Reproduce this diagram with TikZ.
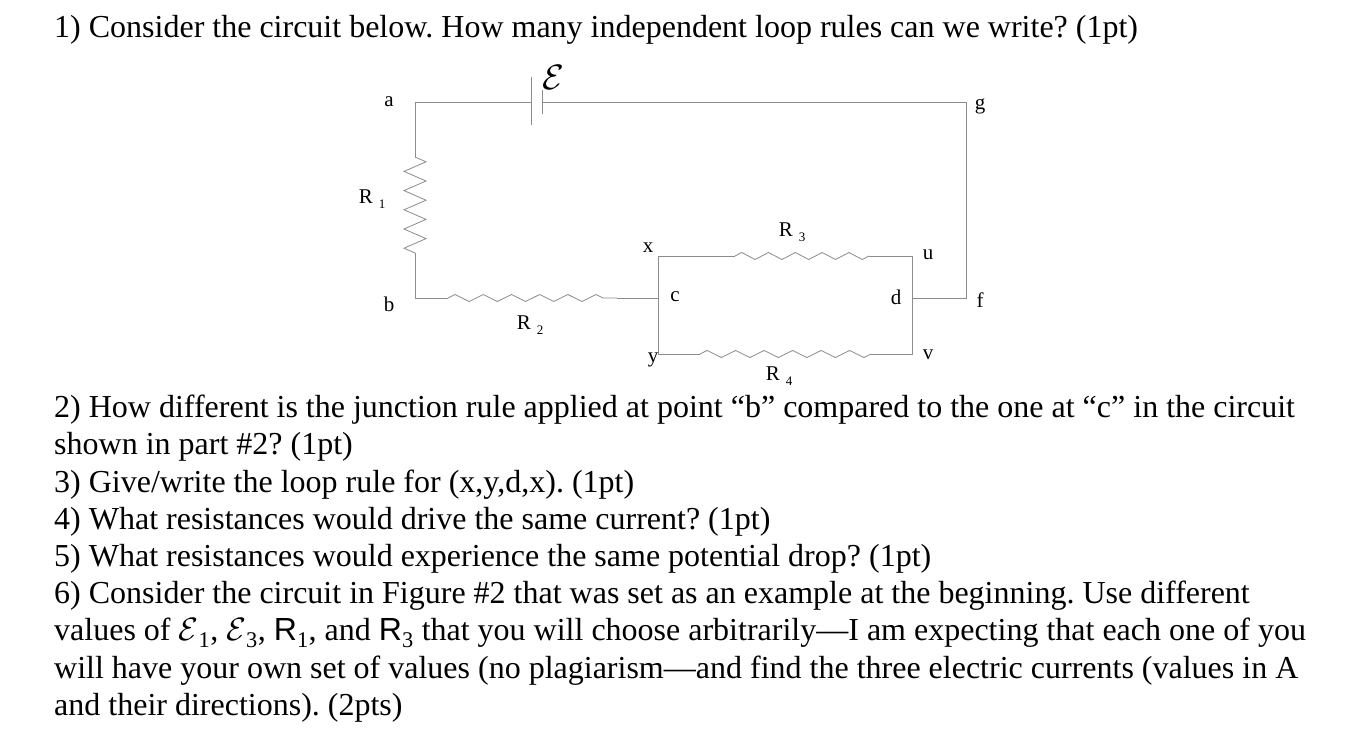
\documentclass[tikz,border=0pt]{standalone}
\usepackage{fontspec}
\setmainfont{Liberation Serif}
\newfontfamily\sff{Liberation Sans}
\usetikzlibrary{decorations.pathmorphing}
\frenchspacing
\begin{document}
\begin{tikzpicture}[x=1pt,y=-1pt,
  wire/.style={draw=black!45,line width=0.8pt},
  res/.style={wire,decorate,decoration={zigzag,segment length=#1,amplitude=3.5pt}},
  lbl/.style={font=\fontsize{21}{21}\selectfont,inner sep=0pt},
  txt/.style={anchor=west,inner sep=0pt,font=\fontsize{32}{34}\selectfont}]
\useasboundingbox (0,0) rectangle (1368,746);
\fill[white] (0,0) rectangle (1368,746);
% circuit coordinates
\coordinate (A) at (415,102);
\coordinate (G) at (966,102);
\coordinate (B) at (415,298);
\coordinate (C) at (658,298);
\coordinate (X) at (658,256);
\coordinate (Y) at (658,354);
\coordinate (U) at (912,256);
\coordinate (V) at (912,354);
\coordinate (D) at (912,298);
\coordinate (F) at (966,298);
\coordinate (P1) at (531,102);
\coordinate (P2) at (542,102);
\coordinate (R1a) at (415,157);
\coordinate (R1b) at (415,253);
\coordinate (R2a) at (448,298);
\coordinate (R2b) at (617,298);
\coordinate (R3a) at (735,256);
\coordinate (R3b) at (869,256);
\coordinate (R4a) at (700,354);
\coordinate (R4b) at (871,354);
\path[wire] (P1) -- (A) -- (R1a);
\draw[wire,decorate,decoration={zigzag,segment length=19.2pt,amplitude=11pt}] (R1a) -- (R1b);
\path[wire] (R1b) -- (B) -- (R2a);
\draw[res=28.2pt] (R2a) -- (R2b);
\path[wire] (R2b) -- (C);
\path[wire] (X) -- (Y);
\path[wire] (X) -- (R3a);
\draw[res=26.8pt] (R3a) -- (R3b);
\path[wire] (R3b) -- (U) -- (V) -- (R4b);
\draw[res=28.5pt] (R4a) -- (R4b);
\path[wire] (R4a) -- (Y);
\path[wire] (D) -- (F) -- (G) -- (P2);
\draw[wire] (531,77) -- (531,125);
\draw[wire] (542,90) -- (542,114);
% labels
\node[lbl] (la) at (389,102) {a};
\node[lbl] (lg) at (980,106) {g};
\node[lbl] (lE) at (553,77) {\scalebox{1.7}{$\mathcal{E}$}};
\node[lbl] (lR1) at (372,199) {R\hspace{6pt}\raisebox{-5pt}{\fontsize{13}{13}\selectfont 1}};
\node[lbl] (lx) at (648,248) {x};
\node[lbl] (lR3) at (792,232) {R\hspace{6pt}\raisebox{-5pt}{\fontsize{13}{13}\selectfont 3}};
\node[lbl] (lu) at (928,255) {u};
\node[lbl] (lb) at (389,304) {b};
\node[lbl] (lc) at (675,297) {c};
\node[lbl] (ld) at (896,297) {d};
\node[lbl] (lf) at (980,300) {f};
\node[lbl] (lR2) at (530,325) {R\hspace{6pt}\raisebox{-5pt}{\fontsize{13}{13}\selectfont 2}};
\node[lbl] (ly) at (653,360) {y};
\node[lbl] (lv) at (928,355) {v};
\node[lbl] (lR4) at (779,376) {R\hspace{6pt}\raisebox{-5pt}{\fontsize{13}{13}\selectfont 4}};
% text
\node[txt] (t1) at (54,30) {1) Consider the circuit below. How many independent loop rules can we write? (1pt)};
\node[txt] (t2) at (54,410) {2) How different is the junction rule applied at point “b” compared to the one at “c” in the circuit};
\node[txt] (t3) at (54,447) {shown in part \#2? (1pt)};
\node[txt] (t4) at (54,485) {3) Give/write the loop rule for (x,y,d,x). (1pt)};
\node[txt] (t5) at (54,522) {4) What resistances would drive the same current? (1pt)};
\node[txt] (t6) at (54,559) {5) What resistances would experience the same potential drop? (1pt)};
\node[txt] (t7) at (54,596) {6) Consider the circuit in Figure \#2 that was set as an example at the beginning. Use different};
\node[txt] (t8) at (54,633) {values of \scalebox{1.3}{$\mathcal{E}$}\textsubscript{1}, \scalebox{1.3}{$\mathcal{E}$}\textsubscript{3}, {\sff R}\textsubscript{1}, and {\sff R}\textsubscript{3} that you will choose arbitrarily—I am expecting that each one of you};
\node[txt] (t9) at (54,671) {will have your own set of values (no plagiarism—and find the three electric currents (values in A};
\node[txt] (t10) at (54,708) {and their directions). (2pts)};
\end{tikzpicture}
\end{document}
